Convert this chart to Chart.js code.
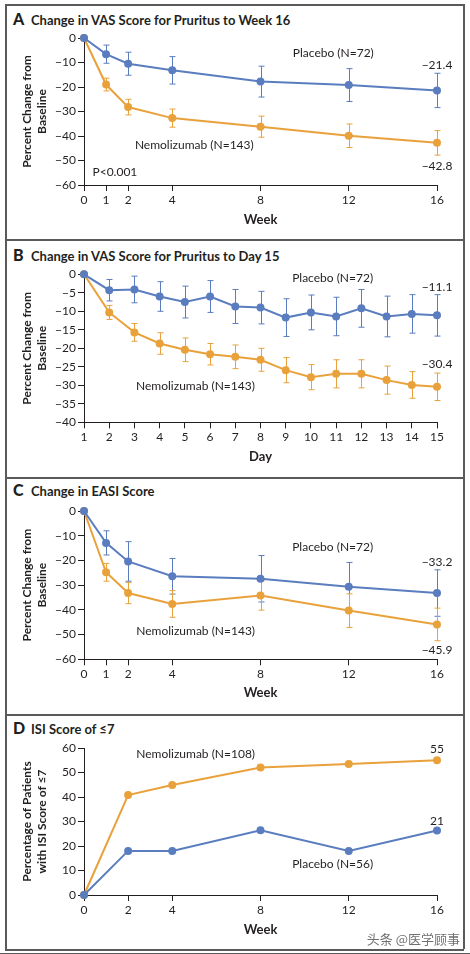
<!DOCTYPE html>
<html>
<head>
<meta charset="utf-8">
<script src="https://cdn.jsdelivr.net/npm/chart.js@4.4.0/dist/chart.umd.min.js"></script>
<style>
  body { margin: 0; background: #fff; width: 470px; height: 954px; position: relative; overflow: hidden;
         font-family: Lato, "Noto Sans", sans-serif; color: #231f20; }
  .hl { position: absolute; left: 5px; width: 459px; height: 1.5px; background: #5a5a5a; }
  .vl { position: absolute; top: 4px; width: 1.5px; height: 945px; background: #5a5a5a; }
  .ttl { position: absolute; left: 13px; font-weight: bold; font-size: 13px; line-height: 16px; white-space: nowrap; }
  .ttl b { display: inline-block; width: 18px; font-size: 16px; }
  .wrap { position: absolute; left: 6px; width: 456px; }
  .mark { position: absolute; right: 10px; top: 929px; font-size: 13px; color: #707070;
          font-family: "Noto Sans CJK SC", sans-serif; }
</style>
</head>
<body>
<div class="vl" style="left:5px"></div>
<div class="vl" style="left:463px"></div>
<div class="hl" style="top:4px"></div>
<div class="hl" style="top:239px"></div>
<div class="hl" style="top:477px"></div>
<div class="hl" style="top:714px"></div>
<div class="hl" style="top:949px"></div>
<div class="hl" style="top:953px;left:0;width:470px"></div>

<div class="ttl" style="top:11px"><b>A</b>Change in VAS Score for Pruritus to Week 16</div>
<div class="ttl" style="top:247px"><b>B</b>Change in VAS Score for Pruritus to Day 15</div>
<div class="ttl" style="top:482px"><b>C</b>Change in EASI Score</div>
<div class="ttl" style="top:720px"><b>D</b>ISI Score of ≤7</div>

<div class="wrap" style="top:5px;height:233px"><canvas id="chartA"></canvas></div>
<div class="wrap" style="top:240px;height:236px"><canvas id="chartB"></canvas></div>
<div class="wrap" style="top:478px;height:235px"><canvas id="chartC"></canvas></div>
<div class="wrap" style="top:715px;height:233px"><canvas id="chartD"></canvas></div>

<div class="mark">头条 @医学顾事</div>

<script>
// panel A - VAS pruritus by week
const weeks = [0, 1, 2, 4, 8, 12, 16];
const vasWeekPlacebo = [0, -6.6, -10.5, -13.2, -17.8, -19.2, -21.4];
const vasWeekPlaceboErr = [0, 3.7, 4.7, 5.6, 6.3, 6.7, 7.0];
const vasWeekNemo = [0, -19.0, -28.2, -32.7, -36.2, -39.9, -42.8];
const vasWeekNemoErr = [0, 2.6, 3.2, 3.7, 4.3, 4.8, 5.0];

// panel B - VAS pruritus by day
const days = [1, 2, 3, 4, 5, 6, 7, 8, 9, 10, 11, 12, 13, 14, 15];
const vasDayPlacebo = [0, -4.3, -4.1, -6.0, -7.5, -6.0, -8.7, -9.0, -11.7, -10.3, -11.4, -9.2, -11.4, -10.7, -11.1];
const vasDayPlaceboErr = [0, 2.9, 3.6, 4.0, 4.3, 4.3, 4.6, 4.4, 5.1, 4.7, 5.2, 5.1, 5.5, 5.2, 5.6];
const vasDayNemo = [0, -10.3, -15.7, -18.7, -20.4, -21.6, -22.3, -23.1, -25.9, -27.8, -26.9, -26.9, -28.6, -29.9, -30.4];
const vasDayNemoErr = [0, 1.9, 2.4, 2.9, 3.2, 2.9, 3.2, 3.1, 3.4, 3.4, 3.8, 3.8, 3.8, 3.6, 3.7];

// panel C - EASI
const easiPlacebo = [0, -12.9, -20.4, -26.4, -27.4, -30.6, -33.2];
const easiPlaceboErr = [0, 4.9, 8.0, 7.2, 9.4, 9.8, 9.4];
const easiNemo = [0, -24.8, -33.2, -37.6, -34.2, -40.3, -45.9];
const easiNemoErr = [0, 3.6, 4.3, 5.4, 5.9, 6.8, 6.6];

// panel D - ISI score <=7
const isiWeeks = [0, 2, 4, 8, 12, 16];
const isiNemo = [0, 40.8, 44.9, 52.0, 53.5, 55];
const isiPlacebo = [0, 18.0, 18.0, 26.4, 18.0, 26.3];

const BLUE = '#5a7dbf';
const ORANGE = '#e9a13b';
const ink = '#231f20';
const family = 'Lato, "Noto Sans", sans-serif';

// vertical error bars with caps, drawn under the lines
const errorBars = {
    id: 'errorBars',
    beforeDatasetsDraw(chart) {
        const ctx = chart.ctx;
        const xs = chart.scales.x, ys = chart.scales.y;
        chart.data.datasets.forEach(ds => {
            if (!ds.errors) return;
            ctx.save();
            ctx.strokeStyle = ds.borderColor;
            ctx.lineWidth = 1;
            ds.data.forEach((p, i) => {
                const e = ds.errors[i];
                if (!e) return;
                const px = Math.round(xs.getPixelForValue(p.x)) + 0.5;
                const top = ys.getPixelForValue(p.y + e);
                const bot = ys.getPixelForValue(p.y - e);
                ctx.beginPath();
                ctx.moveTo(px, top); ctx.lineTo(px, bot);
                ctx.moveTo(px - 3, top); ctx.lineTo(px + 3, top);
                ctx.moveTo(px - 3, bot); ctx.lineTo(px + 3, bot);
                ctx.stroke();
            });
            ctx.restore();
        });
    }
};

// text labels placed in data coordinates
const textLabels = {
    id: 'textLabels',
    afterDatasetsDraw(chart, args, opts) {
        const ctx = chart.ctx;
        ctx.save();
        ctx.font = '12px ' + family;
        ctx.fillStyle = ink;
        ctx.textAlign = 'center';
        ctx.textBaseline = 'middle';
        (opts.items || []).forEach(it => {
            ctx.fillText(it.text, chart.scales.x.getPixelForValue(it.x), chart.scales.y.getPixelForValue(it.y));
        });
        ctx.restore();
    }
};

const minus = v => (v < 0 ? '\u2212' + Math.abs(v) : String(v));

function makePanel(id, cfg) {
    const datasets = cfg.series.map(s => ({
        label: s.label,
        data: cfg.x.map((x, i) => ({ x: x, y: s.values[i] })),
        errors: s.errors,
        borderColor: s.color,
        backgroundColor: s.color,
        borderWidth: 2,
        pointRadius: 3,
        pointHoverRadius: 3,
        tension: 0,
        clip: false
    }));

    new Chart(document.getElementById(id), {
        type: 'line',
        data: { datasets: datasets },
        options: {
            responsive: true,
            maintainAspectRatio: false,
            animation: false,
            layout: { padding: { top: cfg.padTop, right: 25, left: 0, bottom: 0 } },
            plugins: {
                legend: { display: false },
                tooltip: { enabled: false },
                textLabels: { items: cfg.labels }
            },
            scales: {
                x: {
                    type: 'linear',
                    min: cfg.x[0],
                    max: cfg.x[cfg.x.length - 1],
                    afterBuildTicks: s => { s.ticks = cfg.xTicks.map(v => ({ value: v })); },
                    afterFit: s => { s.height = cfg.xHeight; },
                    grid: { drawOnChartArea: false, tickLength: 6, tickColor: ink },
                    border: { color: ink, width: 1 },
                    ticks: { color: ink, font: { family: family, size: 12 }, padding: 2, maxRotation: 0, autoSkip: false },
                    title: { display: true, text: cfg.xTitle, color: ink,
                             font: { family: family, size: 13, weight: 'bold' },
                             padding: { top: 0, bottom: cfg.xTitlePad } }
                },
                y: {
                    min: cfg.yMin,
                    max: cfg.yMax,
                    afterFit: s => { s.width = 78; },
                    grid: { drawOnChartArea: false, tickLength: 6, tickColor: ink },
                    border: { color: ink, width: 1 },
                    ticks: { stepSize: cfg.yStep, color: ink, font: { family: family, size: 12 }, padding: 2, callback: minus },
                    title: { display: true, text: cfg.yTitle, color: ink,
                             font: { family: family, size: 12, weight: 'bold', lineHeight: 1.25 },
                             padding: { top: 13.5, bottom: 0 } }
                }
            }
        },
        plugins: [errorBars, textLabels]
    });
}

makePanel('chartA', {
    x: weeks, xTicks: weeks, xTitle: 'Week', xHeight: 53, xTitlePad: 10, padTop: 33,
    yMin: -60, yMax: 0, yStep: 10, yTitle: ['Percent Change from', 'Baseline'],
    series: [
        { label: 'Placebo (N=72)', values: vasWeekPlacebo, errors: vasWeekPlaceboErr, color: BLUE },
        { label: 'Nemolizumab (N=143)', values: vasWeekNemo, errors: vasWeekNemoErr, color: ORANGE }
    ],
    labels: [
        { text: 'Placebo (N=72)', x: 11.3, y: -6.2 },
        { text: '\u221221.4', x: 16, y: -11.0 },
        { text: 'Nemolizumab (N=143)', x: 5.0, y: -43.7 },
        { text: '\u221242.8', x: 16, y: -52.1 },
        { text: 'P<0.001', x: 1.4, y: -54.6 }
    ]
});

makePanel('chartB', {
    x: days, xTicks: days, xTitle: 'Day', xHeight: 53.7, xTitlePad: 11.5, padTop: 34.3,
    yMin: -40, yMax: 0, yStep: 5, yTitle: ['Percent Change from', 'Baseline'],
    series: [
        { label: 'Placebo (N=72)', values: vasDayPlacebo, errors: vasDayPlaceboErr, color: BLUE },
        { label: 'Nemolizumab (N=143)', values: vasDayNemo, errors: vasDayNemoErr, color: ORANGE }
    ],
    labels: [
        { text: 'Placebo (N=72)', x: 10.86, y: -0.9 },
        { text: '\u221211.1', x: 15, y: -3.35 },
        { text: 'Nemolizumab (N=143)', x: 5.42, y: -30.1 },
        { text: '\u221230.4', x: 15, y: -24.3 }
    ]
});

makePanel('chartC', {
    x: weeks, xTicks: weeks, xTitle: 'Week', xHeight: 53.7, xTitlePad: 12.2, padTop: 33,
    yMin: -60, yMax: 0, yStep: 10, yTitle: ['Percent Change from', 'Baseline'],
    series: [
        { label: 'Placebo (N=72)', values: easiPlacebo, errors: easiPlaceboErr, color: BLUE },
        { label: 'Nemolizumab (N=143)', values: easiNemo, errors: easiNemoErr, color: ORANGE }
    ],
    labels: [
        { text: 'Placebo (N=72)', x: 11.27, y: -14.8 },
        { text: '\u221233.2', x: 16, y: -20.8 },
        { text: 'Nemolizumab (N=143)', x: 5.06, y: -48.5 },
        { text: '\u221245.9', x: 16, y: -56.2 }
    ]
});

makePanel('chartD', {
    x: isiWeeks, xTicks: isiWeeks, xTitle: 'Week', xHeight: 53, xTitlePad: 10, padTop: 33,
    yMin: 0, yMax: 60, yStep: 10, yTitle: ['Percentage of Patients', 'with ISI Score of \u22647'],
    series: [
        { label: 'Placebo (N=56)', values: isiPlacebo, color: BLUE },
        { label: 'Nemolizumab (N=108)', values: isiNemo, color: ORANGE }
    ],
    labels: [
        { text: 'Nemolizumab (N=108)', x: 5.06, y: 57.4 },
        { text: '55', x: 16, y: 59.5 },
        { text: '21', x: 16, y: 30.2 },
        { text: 'Placebo (N=56)', x: 11.27, y: 12.5 }
    ]
});
</script>
</body>
</html>
